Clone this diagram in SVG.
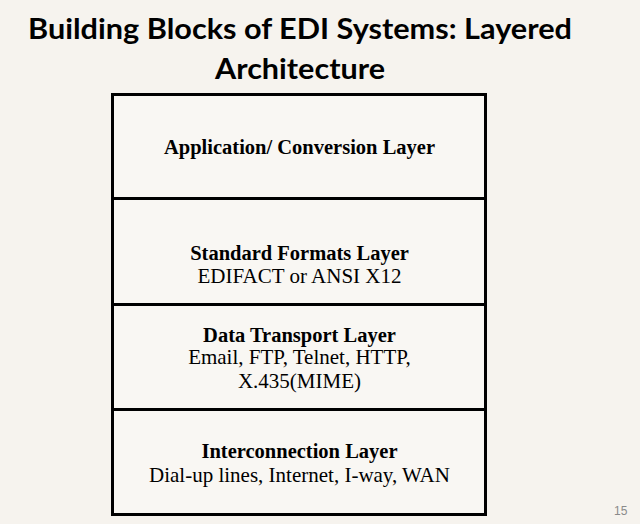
<svg xmlns="http://www.w3.org/2000/svg" width="640" height="524" viewBox="0 0 640 524">
<style>
.title{font-family:'Lato','Liberation Sans',sans-serif;font-weight:bold;font-size:28px;fill:#000;text-anchor:middle}
.h{font-family:'Liberation Serif','Times New Roman','DejaVu Serif',serif;font-weight:bold;font-size:20.5px;fill:#000;text-anchor:middle}
.t{font-family:'Liberation Serif','Times New Roman','DejaVu Serif',serif;font-size:21px;fill:#000;text-anchor:middle}
.box{fill:#f9f7f3;stroke:#000;stroke-width:3}
.pg{font-family:'Liberation Sans',Arial,sans-serif;font-size:12px;fill:#8a8a8a}
</style>
<rect x="0" y="0" width="640" height="524" fill="#f6f3ee"/>
<text class="title" x="300" y="39" textLength="544" lengthAdjust="spacingAndGlyphs">Building Blocks of EDI Systems: Layered</text>
<text class="title" x="300" y="79" textLength="170" lengthAdjust="spacingAndGlyphs">Architecture</text>
<g id="application">
<rect class="box" x="112.5" y="94.5" width="373" height="104"/>
<text class="h" x="299.5" y="154">Application/ Conversion Layer</text>
</g>
<g id="standard">
<rect class="box" x="112.5" y="198.5" width="373" height="106"/>
<text class="h" x="299.5" y="260">Standard Formats Layer</text>
<text class="t" x="299.5" y="283">EDIFACT or ANSI X12</text>
</g>
<g id="transport">
<rect class="box" x="112.5" y="304.5" width="373" height="105"/>
<text class="h" x="299.5" y="342">Data Transport Layer</text>
<text class="t" x="299.5" y="364">Email, FTP, Telnet, HTTP,</text>
<text class="t" x="299.5" y="388">X.435(MIME)</text>
</g>
<g id="interconnection">
<rect class="box" x="112.5" y="409.5" width="373" height="105"/>
<text class="h" x="299.5" y="458">Interconnection Layer</text>
<text class="t" x="299.5" y="482">Dial-up lines, Internet, I-way, WAN</text>
</g>
<g id="connectors"></g>
<text class="pg" x="614" y="515">15</text>
</svg>
